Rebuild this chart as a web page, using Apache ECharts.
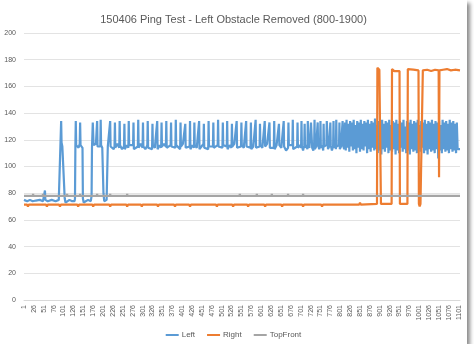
<!DOCTYPE html>
<html>
<head>
<meta charset="utf-8">
<script src="https://cdn.jsdelivr.net/npm/echarts@6/dist/echarts.min.js"></script>
<style>
  html, body { margin: 0; padding: 0; background: #ffffff; }
  #chart { width: 467px; height: 344px; background: #ffffff; box-shadow: 3px 3px 4px #8a8a8a; }
</style>
</head>
<body>
<div id="chart"></div>
<script>
const titleText = "150406 Ping Test - Left Obstacle Removed (800-1900)";
const seriesNames = ["Left", "Right", "TopFront"];
const pointCount = 1104;
// category labels 1..1104, one per ping sample
const categories = Array.from({ length: pointCount }, (_, i) => String(i + 1));

// [sample index, value] key points
const leftData = [
  [0,75],[8,74],[15,75],[22,74],[30,74.5],[40,75],[48,74],[52,75],[53,82],[54,75],[60,74],[70,75],[80,74],[88,75],[92,74],
  [93,76],[94,134],[95,118],[97,115],[99,116],[101,114],[102,115],[103,76],[105,73],[108,74],[115,75],[122,74],[127,75],
  [128,74],[129,76],[130,115],[131,134],[132,116],[135,117],[138,114],[140,115],[141,117],[142,133],[143,116],[146,115],[148,114],[149,76],[151,73],[155,74],[162,75],[169,74],
  [170,75],[171,78],[172,114],[174,133],[176,116],[179,115],[182,117],[184,116],[185,134],[186,115],[189,114],[191,116],[193,115],[194,135],[195,116],[198,114],[200,115],[201,80],[203,74],[206,73],[209,75],[211,76],
  [212,115],[214,116],[216,114],[218,134],[219,115],[223,116],[227,113],
  [229,115],[230,133],[231,114],[236,117],
  [241,114],[242,134],[243,116],[248,113],
  [253,115],[254,132],[255,113],[260,116],
  [264,114],[265,134],[266,116],[271,115],
  [276,116],[277,133],[278,113],[283,114],
  [288,115],[289,135],[290,114],[295,117],
  [300,114],[301,133],[302,115],[307,113],
  [312,116],[313,134],[314,114],[319,115],
  [324,113],[325,132],[326,116],[331,114],
  [336,115],[337,134],[338,113],[343,116],
  [347,114],[348,133],[349,115],[354,117],
  [359,115],[360,134],[361,114],[366,113],
  [371,116],[372,133],[373,115],[378,114],
  [383,114],[384,135],[385,116],[390,115],
  [395,113],[396,133],[397,115],[402,117],
  [407,116],[408,132],[409,114],[414,115],
  [419,115],[420,134],[421,113],[426,116],
  [430,114],[431,133],[432,116],[437,114],
  [442,115],[443,134],[444,113],[449,115],
  [454,117],[455,132],[456,114],[461,115],
  [466,113],[467,134],[468,115],[473,116],
  [478,115],[479,133],[480,114],[485,113],
  [490,116],[491,135],[492,115],[497,114],
  [502,114],[503,133],[504,116],[509,115],
  [513,115],[514,134],[515,113],[520,116],
  [525,114],[526,132],[527,115],[532,117],
  [537,116],[538,134],[539,114],[544,113],
  [549,115],[550,133],[551,116],[556,114],
  [561,113],[562,134],[563,115],[568,116],
  [573,114],[574,133],[575,113],[580,115],
  [585,116],[586,135],[587,114],[592,113],
  [596,115],[597,132],[598,116],[603,114],
  [608,113],[609,134],[610,115],[615,117],
  [620,116],[621,133],[622,114],[627,115],
  [632,114],[633,134],[634,113],[639,116],
  [644,115],[645,132],[646,116],[651,114],
  [656,113],[657,134],[658,115],[663,112],
  [668,114],[669,133],[670,116],[675,115],
  [679,116],[680,135],[681,113],[686,114],
  [691,115],[692,133],[693,114],[698,116],
  [701,114],[702,134],[703,115],[706,112],
  [709,116],[710,132],[711,114],[714,116],
  [717,113],[718,134],[719,116],[722,114],
  [725,115],[726,133],[728,133],[729,114],[732,112],
  [734,116],[735,135],[736,113],[739,115],
  [742,114],[743,133],[744,116],[747,113],
  [749,115],[750,134],[751,114],[754,116],
  [757,112],[758,132],[759,115],[762,114],
  [765,116],[766,134],[768,134],[769,113],[772,115],
  [774,114],[775,133],[776,116],[779,112],
  [782,115],[783,134],[784,114],[787,116],
  [789,113],[790,135],[791,115],[794,114],
  [797,116],[798,133],[799,113],[802,115],
  [805,114],[806,134],[807,116],[810,113],
  [812,133],[814,112],[816,135],[818,114],[821,132],[823,111],[825,134],[827,115],[830,133],[832,112],
  [834,135],[836,113],[839,131],[841,110],[843,134],[845,114],[848,133],[850,111],[852,135],[854,113],
  [857,132],[859,112],[861,134],[863,115],[866,133],[868,110],[870,135],[872,113],[875,132],[877,111],
  [879,134],[881,114],[884,133],[886,112],[888,136],[890,113],[893,131],[895,110],[897,134],[899,112],
  [902,133],[904,109],[906,135],[908,113],[911,132],[913,111],[915,134],[917,114],[920,133],[922,110],
  [924,135],[926,112],[929,131],[931,111],[933,134],[935,113],[938,133],[940,109],[942,135],[944,112],
  [947,132],[949,110],[951,134],[953,114],[956,133],[958,111],[960,135],[962,113],[965,130],[967,110],
  [969,134],[971,112],[974,133],[976,109],[978,135],[980,113],[983,132],[985,111],[987,134],[989,112],
  [992,133],[994,110],[996,135],[998,113],[1001,131],[1003,111],[1005,134],[1007,114],[1010,133],[1012,110],
  [1014,135],[1016,112],[1019,132],[1021,109],[1023,134],[1025,113],[1028,133],[1030,111],[1032,135],[1034,112],
  [1037,132],[1039,110],[1041,134],[1043,113],[1046,133],[1048,106],[1050,134],[1052,112],[1055,131],[1057,110],
  [1059,135],[1061,113],[1064,133],[1066,111],[1068,134],[1070,112],[1073,132],[1075,110],[1077,135],[1079,113],
  [1082,133],[1084,111],[1086,134],[1088,112],[1091,132],[1093,110],[1095,133],[1097,113],[1100,114],[1103,113]
];

const rightData = [
  [0,71.5],[8,71.5],[10,70],[12,71.5],[56,71.5],[58,70],[60,71.5],[89,71.5],[91,70],[93,71.5],
  [135,71.5],[137,70],[139,71.5],[173,71.5],[175,70],[177,71.5],[216,71.5],[218,70],[220,71.5],
  [259,71.5],[261,70],[263,71.5],[296,71.5],[298,70],[300,71.5],[337,71.5],[339,70],[341,71.5],
  [380,71.5],[382,70],[384,71.5],[418,71.5],[420,70],[422,71.5],[486,71.5],[488,70],[490,71.5],
  [527,71.5],[529,70],[531,71.5],[565,71.5],[567,70],[569,71.5],[608,71.5],[610,70],[612,71.5],
  [651,71.5],[653,70],[655,71.5],[704,71.5],[706,70],[708,71.5],[752,71.5],[754,70],[756,71.5],
  [848,71.5],[850,73],[852,71.5],[893,72],
  [894,174],[898,174],[899,172.5],[902,172.5],[903,72],[930,72],
  [931,173],[936,173],[937,171.5],[950,171.5],[951,72],[970,72],
  [971,173],[975,172],[985,172.5],[998,172],[999,72],[1001,70],[1003,72],[1008,72],
  [1009,172],[1020,172.5],[1030,171.5],[1040,172.5],[1049,172],[1050,92],[1051,172],
  [1060,172.5],[1070,173],[1080,172],[1090,172.5],[1103,172]
];

const topFrontData = [
  [0,78],[22,78],[23,79.5],[24,78],[47,78],[48,79.5],[49,78],[108,78],[109,79.5],[110,78],
  [141,78],[142,79.5],[143,78],[184,78],[185,79.5],[186,78],[217,78],[218,79.5],[219,78],
  [260,78],[261,79.5],[262,78],[545,78],[546,79.5],[547,78],[588,78],[589,79.5],[590,78],
  [626,78],[627,79.5],[628,78],[667,78],[668,79.5],[669,78],[705,78],[706,79.5],[707,78],[1103,78]
];

const yTicks = { min: 0, max: 200, interval: 20 };
const seriesColors = ["#5b9bd5", "#ed7d31", "#a5a5a5"];

const chart = echarts.init(document.getElementById("chart"));
const textColor = "#595959";
const font = "'Liberation Sans', sans-serif";

chart.setOption({
  animation: false,
  color: seriesColors,
  title: {
    text: titleText,
    left: "center",
    top: 9,
    textStyle: { fontFamily: font, fontSize: 11, fontWeight: "normal", color: textColor }
  },
  legend: {
    data: seriesNames,
    top: 326,
    left: "center",
    icon: "rect",
    itemWidth: 13,
    itemHeight: 2,
    itemGap: 12,
    textStyle: { fontFamily: font, fontSize: 8, color: textColor, padding: [0, 0, 0, -2] }
  },
  grid: { left: 24, right: 7, top: 33, bottom: 44 },
  xAxis: {
    type: "category",
    data: categories,
    boundaryGap: false,
    axisLine: { lineStyle: { color: "#d9d9d9" } },
    axisTick: { show: false },
    axisLabel: { interval: 24, rotate: 90, fontFamily: font, fontSize: 7, color: textColor, margin: 5 },
    splitLine: { show: false }
  },
  yAxis: {
    type: "value",
    min: yTicks.min,
    max: yTicks.max,
    interval: yTicks.interval,
    axisLine: { show: false },
    axisTick: { show: false },
    axisLabel: { fontFamily: font, fontSize: 7, color: textColor, margin: 8 },
    splitLine: { lineStyle: { color: "#e3e3e3", width: 1 } }
  },
  series: [
    { name: seriesNames[0], type: "line", data: leftData, showSymbol: false, lineStyle: { width: 2.2 } },
    { name: seriesNames[1], type: "line", data: rightData, showSymbol: false, lineStyle: { width: 2.2 } },
    { name: seriesNames[2], type: "line", data: topFrontData, showSymbol: false, lineStyle: { width: 2.2 } }
  ]
});
</script>
</body>
</html>
